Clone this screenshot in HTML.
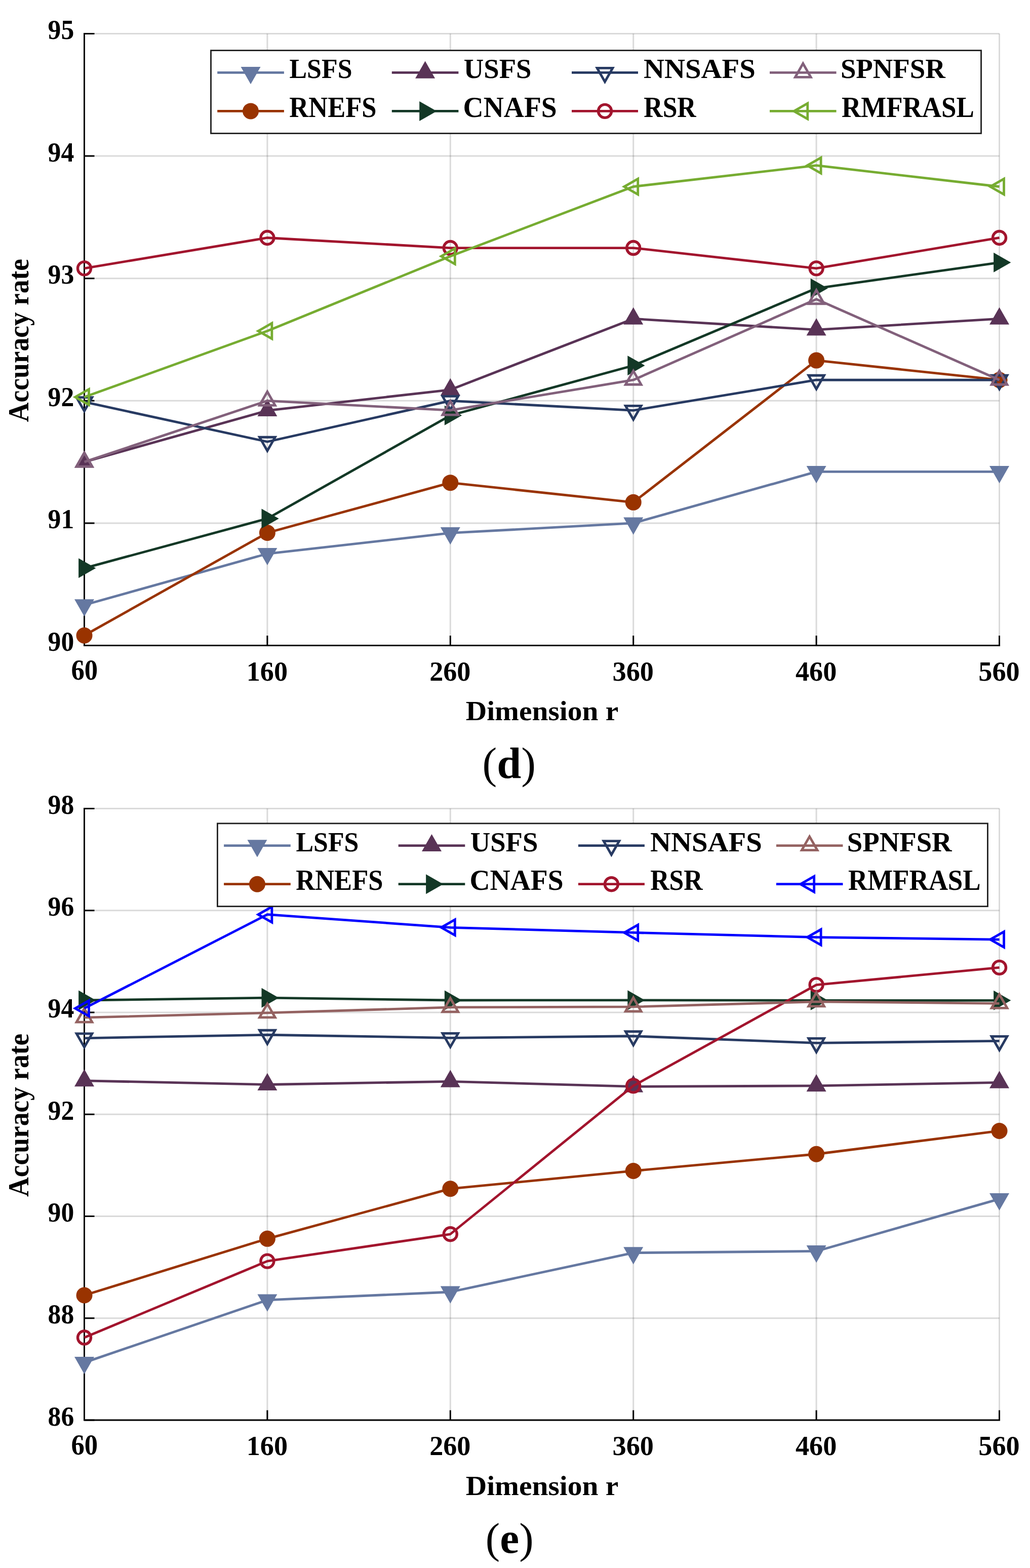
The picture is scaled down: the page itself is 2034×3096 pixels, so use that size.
<!DOCTYPE html>
<html><head><meta charset="utf-8"><title>Accuracy rate vs Dimension r</title>
<style>html,body{margin:0;padding:0;background:#fff;}svg{display:block;}
text{font-family:"Liberation Serif", serif;fill:#000;}</style></head>
<body><svg width="2034" height="3096" viewBox="0 0 2034 3096">
<rect width="2034" height="3096" fill="#fff"/>
<g stroke="#262626" stroke-opacity="0.17" stroke-width="3" fill="none"><path d="M166.5 1274.5H1973.5"/><path d="M166.5 1032.9H1973.5"/><path d="M166.5 791.3H1973.5"/><path d="M166.5 549.7H1973.5"/><path d="M166.5 308.1H1973.5"/><path d="M166.5 66.5H1973.5"/><path d="M166.5 66.5V1274.5"/><path d="M527.9 66.5V1274.5"/><path d="M889.3 66.5V1274.5"/><path d="M1250.7 66.5V1274.5"/><path d="M1612.1 66.5V1274.5"/><path d="M1973.5 66.5V1274.5"/></g>
<path d="M166.5 66.5V1274.5H1973.5" fill="none" stroke="#000" stroke-width="3" stroke-linecap="square"/>
<path d="M166.5 1274.5H186.5M166.5 1032.9H186.5M166.5 791.3H186.5M166.5 549.7H186.5M166.5 308.1H186.5M166.5 66.5H186.5M166.5 1274.5V1255M527.9 1274.5V1255M889.3 1274.5V1255M1250.7 1274.5V1255M1612.1 1274.5V1255M1973.5 1274.5V1255" fill="none" stroke="#000" stroke-width="3"/>
<polyline points="166.5,1194.53 527.9,1093.3 889.3,1052.47 1250.7,1032.9 1612.1,931.43 1973.5,931.43" fill="none" stroke="#6578a1" stroke-width="4.8" stroke-linejoin="round"/>
<path d="M147 1183.13 L186 1183.13 L166.5 1217.33 Z" fill="#6578a1"/>
<path d="M508.4 1081.9 L547.4 1081.9 L527.9 1116.1 Z" fill="#6578a1"/>
<path d="M869.8 1041.07 L908.8 1041.07 L889.3 1075.27 Z" fill="#6578a1"/>
<path d="M1231.2 1021.5 L1270.2 1021.5 L1250.7 1055.7 Z" fill="#6578a1"/>
<path d="M1592.6 920.03 L1631.6 920.03 L1612.1 954.23 Z" fill="#6578a1"/>
<path d="M1954 920.03 L1993 920.03 L1973.5 954.23 Z" fill="#6578a1"/>
<polyline points="166.5,1254.69 527.9,1051.99 889.3,953.17 1250.7,991.83 1612.1,711.57 1973.5,750.23" fill="none" stroke="#993300" stroke-width="4.8" stroke-linejoin="round"/>
<circle cx="166.5" cy="1254.69" r="16" fill="#993300"/>
<circle cx="527.9" cy="1051.99" r="16" fill="#993300"/>
<circle cx="889.3" cy="953.17" r="16" fill="#993300"/>
<circle cx="1250.7" cy="991.83" r="16" fill="#993300"/>
<circle cx="1612.1" cy="711.57" r="16" fill="#993300"/>
<circle cx="1973.5" cy="750.23" r="16" fill="#993300"/>
<polyline points="166.5,912.1 527.9,810.63 889.3,769.56 1250.7,629.43 1612.1,651.17 1973.5,629.43" fill="none" stroke="#593356" stroke-width="4.8" stroke-linejoin="round"/>
<path d="M147 923.5 L186 923.5 L166.5 889.3 Z" fill="#593356"/>
<path d="M508.4 822.03 L547.4 822.03 L527.9 787.83 Z" fill="#593356"/>
<path d="M869.8 780.96 L908.8 780.96 L889.3 746.76 Z" fill="#593356"/>
<path d="M1231.2 640.83 L1270.2 640.83 L1250.7 606.63 Z" fill="#593356"/>
<path d="M1592.6 662.57 L1631.6 662.57 L1612.1 628.37 Z" fill="#593356"/>
<path d="M1954 640.83 L1993 640.83 L1973.5 606.63 Z" fill="#593356"/>
<polyline points="166.5,1121.81 527.9,1023.96 889.3,820.29 1250.7,721.72 1612.1,569.27 1973.5,518.29" fill="none" stroke="#133826" stroke-width="4.8" stroke-linejoin="round"/>
<path d="M155.1 1102.31 L155.1 1141.31 L189.3 1121.81 Z" fill="#133826"/>
<path d="M516.5 1004.46 L516.5 1043.46 L550.7 1023.96 Z" fill="#133826"/>
<path d="M877.9 800.79 L877.9 839.79 L912.1 820.29 Z" fill="#133826"/>
<path d="M1239.3 702.22 L1239.3 741.22 L1273.5 721.72 Z" fill="#133826"/>
<path d="M1600.7 549.77 L1600.7 588.77 L1634.9 569.27 Z" fill="#133826"/>
<path d="M1962.1 498.79 L1962.1 537.79 L1996.3 518.29 Z" fill="#133826"/>
<polyline points="166.5,793.72 527.9,872.24 889.3,791.3 1250.7,810.39 1612.1,750.23 1973.5,750.23" fill="none" stroke="#273a62" stroke-width="4.8" stroke-linejoin="round"/>
<path d="M147 782.32 L186 782.32 L166.5 816.52 Z M166.5 806.83 L177.74 787.12 L155.26 787.12 Z" fill="#273a62" fill-rule="evenodd"/>
<path d="M508.4 860.84 L547.4 860.84 L527.9 895.04 Z M527.9 885.35 L539.14 865.64 L516.66 865.64 Z" fill="#273a62" fill-rule="evenodd"/>
<path d="M869.8 779.9 L908.8 779.9 L889.3 814.1 Z M889.3 804.41 L900.54 784.7 L878.06 784.7 Z" fill="#273a62" fill-rule="evenodd"/>
<path d="M1231.2 798.99 L1270.2 798.99 L1250.7 833.19 Z M1250.7 823.5 L1261.94 803.79 L1239.46 803.79 Z" fill="#273a62" fill-rule="evenodd"/>
<path d="M1592.6 738.83 L1631.6 738.83 L1612.1 773.03 Z M1612.1 763.34 L1623.34 743.63 L1600.86 743.63 Z" fill="#273a62" fill-rule="evenodd"/>
<path d="M1954 738.83 L1993 738.83 L1973.5 773.03 Z M1973.5 763.34 L1984.74 743.63 L1962.26 743.63 Z" fill="#273a62" fill-rule="evenodd"/>
<polyline points="166.5,529.89 527.9,469.49 889.3,489.54 1250.7,489.54 1612.1,529.89 1973.5,469.49" fill="none" stroke="#a2142d" stroke-width="4.8" stroke-linejoin="round"/>
<circle cx="166.5" cy="529.89" r="13" fill="none" stroke="#a2142d" stroke-width="5.4"/>
<circle cx="527.9" cy="469.49" r="13" fill="none" stroke="#a2142d" stroke-width="5.4"/>
<circle cx="889.3" cy="489.54" r="13" fill="none" stroke="#a2142d" stroke-width="5.4"/>
<circle cx="1250.7" cy="489.54" r="13" fill="none" stroke="#a2142d" stroke-width="5.4"/>
<circle cx="1612.1" cy="529.89" r="13" fill="none" stroke="#a2142d" stroke-width="5.4"/>
<circle cx="1973.5" cy="469.49" r="13" fill="none" stroke="#a2142d" stroke-width="5.4"/>
<polyline points="166.5,912.1 527.9,791.3 889.3,810.14 1250.7,750.23 1612.1,590.77 1973.5,750.23" fill="none" stroke="#82607b" stroke-width="4.8" stroke-linejoin="round"/>
<path d="M147 923.5 L186 923.5 L166.5 889.3 Z M166.5 898.99 L177.74 918.7 L155.26 918.7 Z" fill="#82607b" fill-rule="evenodd"/>
<path d="M508.4 802.7 L547.4 802.7 L527.9 768.5 Z M527.9 778.19 L539.14 797.9 L516.66 797.9 Z" fill="#82607b" fill-rule="evenodd"/>
<path d="M869.8 821.54 L908.8 821.54 L889.3 787.34 Z M889.3 797.04 L900.54 816.74 L878.06 816.74 Z" fill="#82607b" fill-rule="evenodd"/>
<path d="M1231.2 761.63 L1270.2 761.63 L1250.7 727.43 Z M1250.7 737.12 L1261.94 756.83 L1239.46 756.83 Z" fill="#82607b" fill-rule="evenodd"/>
<path d="M1592.6 602.17 L1631.6 602.17 L1612.1 567.97 Z M1612.1 577.66 L1623.34 597.37 L1600.86 597.37 Z" fill="#82607b" fill-rule="evenodd"/>
<path d="M1954 761.63 L1993 761.63 L1973.5 727.43 Z M1973.5 737.12 L1984.74 756.83 L1962.26 756.83 Z" fill="#82607b" fill-rule="evenodd"/>
<polyline points="166.5,784.05 527.9,653.59 889.3,505.97 1250.7,368.5 1612.1,326.7 1973.5,368.5" fill="none" stroke="#76ac31" stroke-width="4.8" stroke-linejoin="round"/>
<path d="M177.9 764.55 L177.9 803.55 L143.7 784.05 Z M153.39 784.05 L173.1 795.29 L173.1 772.81 Z" fill="#76ac31" fill-rule="evenodd"/>
<path d="M539.3 634.09 L539.3 673.09 L505.1 653.59 Z M514.79 653.59 L534.5 664.83 L534.5 642.35 Z" fill="#76ac31" fill-rule="evenodd"/>
<path d="M900.7 486.47 L900.7 525.47 L866.5 505.97 Z M876.19 505.97 L895.9 517.21 L895.9 494.73 Z" fill="#76ac31" fill-rule="evenodd"/>
<path d="M1262.1 349 L1262.1 388 L1227.9 368.5 Z M1237.59 368.5 L1257.3 379.74 L1257.3 357.26 Z" fill="#76ac31" fill-rule="evenodd"/>
<path d="M1623.5 307.2 L1623.5 346.2 L1589.3 326.7 Z M1598.99 326.7 L1618.7 337.94 L1618.7 315.47 Z" fill="#76ac31" fill-rule="evenodd"/>
<path d="M1984.9 349 L1984.9 388 L1950.7 368.5 Z M1960.39 368.5 L1980.1 379.74 L1980.1 357.26 Z" fill="#76ac31" fill-rule="evenodd"/>
<text x="146.25" y="1284.95" font-size="54.88" font-weight="bold" text-anchor="end" textLength="51.68" lengthAdjust="spacingAndGlyphs">90</text>
<text x="146.25" y="1043.35" font-size="54.88" font-weight="bold" text-anchor="end" textLength="51.68" lengthAdjust="spacingAndGlyphs">91</text>
<text x="146.25" y="801.75" font-size="54.88" font-weight="bold" text-anchor="end" textLength="51.68" lengthAdjust="spacingAndGlyphs">92</text>
<text x="146.25" y="560.15" font-size="54.88" font-weight="bold" text-anchor="end" textLength="51.68" lengthAdjust="spacingAndGlyphs">93</text>
<text x="146.25" y="318.55" font-size="54.88" font-weight="bold" text-anchor="end" textLength="51.68" lengthAdjust="spacingAndGlyphs">94</text>
<text x="146.25" y="76.95" font-size="54.88" font-weight="bold" text-anchor="end" textLength="51.68" lengthAdjust="spacingAndGlyphs">95</text>
<text x="166.8" y="1342" font-size="56.65" font-weight="bold" text-anchor="middle" textLength="52.72" lengthAdjust="spacingAndGlyphs">60</text>
<text x="527.4" y="1343.75" font-size="54.37" font-weight="bold" text-anchor="middle" textLength="81.29" lengthAdjust="spacingAndGlyphs">160</text>
<text x="888.8" y="1343.75" font-size="54.37" font-weight="bold" text-anchor="middle" textLength="81.29" lengthAdjust="spacingAndGlyphs">260</text>
<text x="1250.2" y="1343.75" font-size="54.37" font-weight="bold" text-anchor="middle" textLength="81.29" lengthAdjust="spacingAndGlyphs">360</text>
<text x="1611.6" y="1343.75" font-size="54.37" font-weight="bold" text-anchor="middle" textLength="81.29" lengthAdjust="spacingAndGlyphs">460</text>
<text x="1973" y="1343.75" font-size="54.37" font-weight="bold" text-anchor="middle" textLength="81.29" lengthAdjust="spacingAndGlyphs">560</text>
<text x="1070.5" y="1422.25" font-size="54.31" font-weight="bold" text-anchor="middle" textLength="301.63" lengthAdjust="spacingAndGlyphs">Dimension r</text>
<text x="0" y="0" font-size="56.95" font-weight="bold" text-anchor="middle" textLength="322.16" lengthAdjust="spacingAndGlyphs" transform="translate(56.15 672.1) rotate(-90)">Accuracy rate</text>
<text x="1005.3" y="1535.5" font-size="86.23" text-anchor="middle">(<tspan font-weight="bold">d</tspan>)</text>
<rect x="416.5" y="99.6" width="1521" height="163.8" fill="#fff" stroke="#1e1e1e" stroke-width="2.8"/>
<path d="M429.2 143.4H560.9" stroke="#6578a1" stroke-width="4.8"/>
<path d="M475.55 132 L514.55 132 L495.05 166.2 Z" fill="#6578a1"/>
<text x="571.5" y="154.2" font-size="55" font-weight="bold" text-anchor="start" textLength="124.08" lengthAdjust="spacingAndGlyphs">LSFS</text>
<path d="M773.8 143.4H905.4" stroke="#593356" stroke-width="4.8"/>
<path d="M820.1 154.8 L859.1 154.8 L839.6 120.6 Z" fill="#593356"/>
<text x="915.75" y="154.2" font-size="55" font-weight="bold" text-anchor="start" textLength="133.72" lengthAdjust="spacingAndGlyphs">USFS</text>
<path d="M1129 143.4H1260" stroke="#273a62" stroke-width="4.8"/>
<path d="M1175 132 L1214 132 L1194.5 166.2 Z M1194.5 156.51 L1205.74 136.8 L1183.26 136.8 Z" fill="#273a62" fill-rule="evenodd"/>
<text x="1271.05" y="154.2" font-size="55" font-weight="bold" text-anchor="start" textLength="220.78" lengthAdjust="spacingAndGlyphs">NNSAFS</text>
<path d="M1520 143.4H1651.5" stroke="#82607b" stroke-width="4.8"/>
<path d="M1566.25 154.8 L1605.25 154.8 L1585.75 120.6 Z M1585.75 130.29 L1596.99 150 L1574.51 150 Z" fill="#82607b" fill-rule="evenodd"/>
<text x="1659.95" y="154.2" font-size="55" font-weight="bold" text-anchor="start" textLength="206.74" lengthAdjust="spacingAndGlyphs">SPNFSR</text>
<path d="M429.2 219.4H560.9" stroke="#993300" stroke-width="4.8"/>
<circle cx="495.05" cy="219.4" r="16" fill="#993300"/>
<text x="571.35" y="230.65" font-size="56.08" font-weight="bold" text-anchor="start" textLength="172.17" lengthAdjust="spacingAndGlyphs">RNEFS</text>
<path d="M773.8 219.4H905.4" stroke="#133826" stroke-width="4.8"/>
<path d="M828.2 199.9 L828.2 238.9 L862.4 219.4 Z" fill="#133826"/>
<text x="914.55" y="230.65" font-size="56.08" font-weight="bold" text-anchor="start" textLength="185.15" lengthAdjust="spacingAndGlyphs">CNAFS</text>
<path d="M1129 219.4H1260" stroke="#a2142d" stroke-width="4.8"/>
<circle cx="1194.5" cy="219.4" r="13" fill="none" stroke="#a2142d" stroke-width="5.4"/>
<text x="1271.35" y="230.65" font-size="56.08" font-weight="bold" text-anchor="start" textLength="103.32" lengthAdjust="spacingAndGlyphs">RSR</text>
<path d="M1520 219.4H1651.5" stroke="#76ac31" stroke-width="4.8"/>
<path d="M1597.15 199.9 L1597.15 238.9 L1562.95 219.4 Z M1572.64 219.4 L1592.35 230.64 L1592.35 208.16 Z" fill="#76ac31" fill-rule="evenodd"/>
<text x="1662.05" y="230.65" font-size="56.08" font-weight="bold" text-anchor="start" textLength="261.65" lengthAdjust="spacingAndGlyphs">RMFRASL</text>
<g stroke="#262626" stroke-opacity="0.17" stroke-width="3" fill="none"><path d="M166.5 2804.1H1973.5"/><path d="M166.5 2602.82H1973.5"/><path d="M166.5 2401.53H1973.5"/><path d="M166.5 2200.25H1973.5"/><path d="M166.5 1998.97H1973.5"/><path d="M166.5 1797.68H1973.5"/><path d="M166.5 1596.4H1973.5"/><path d="M166.5 1596.4V2804.1"/><path d="M527.9 1596.4V2804.1"/><path d="M889.3 1596.4V2804.1"/><path d="M1250.7 1596.4V2804.1"/><path d="M1612.1 1596.4V2804.1"/><path d="M1973.5 1596.4V2804.1"/></g>
<path d="M166.5 1596.4V2804.1H1973.5" fill="none" stroke="#000" stroke-width="3" stroke-linecap="square"/>
<path d="M166.5 2804.1H186.5M166.5 2602.82H186.5M166.5 2401.53H186.5M166.5 2200.25H186.5M166.5 1998.97H186.5M166.5 1797.68H186.5M166.5 1596.4H186.5M166.5 2804.1V2784.6M527.9 2804.1V2784.6M889.3 2804.1V2784.6M1250.7 2804.1V2784.6M1612.1 2804.1V2784.6M1973.5 2804.1V2784.6" fill="none" stroke="#000" stroke-width="3"/>
<polyline points="166.5,2690.37 527.9,2566.89 889.3,2550.99 1250.7,2473.69 1612.1,2470.47 1973.5,2367.32" fill="none" stroke="#6578a1" stroke-width="4.8" stroke-linejoin="round"/>
<path d="M147 2678.97 L186 2678.97 L166.5 2713.17 Z" fill="#6578a1"/>
<path d="M508.4 2555.49 L547.4 2555.49 L527.9 2589.69 Z" fill="#6578a1"/>
<path d="M869.8 2539.59 L908.8 2539.59 L889.3 2573.79 Z" fill="#6578a1"/>
<path d="M1231.2 2462.29 L1270.2 2462.29 L1250.7 2496.49 Z" fill="#6578a1"/>
<path d="M1592.6 2459.07 L1631.6 2459.07 L1612.1 2493.27 Z" fill="#6578a1"/>
<path d="M1954 2355.92 L1993 2355.92 L1973.5 2390.12 Z" fill="#6578a1"/>
<polyline points="166.5,2557.53 527.9,2445.82 889.3,2347.19 1250.7,2311.96 1612.1,2278.75 1973.5,2232.96" fill="none" stroke="#993300" stroke-width="4.8" stroke-linejoin="round"/>
<circle cx="166.5" cy="2557.53" r="16" fill="#993300"/>
<circle cx="527.9" cy="2445.82" r="16" fill="#993300"/>
<circle cx="889.3" cy="2347.19" r="16" fill="#993300"/>
<circle cx="1250.7" cy="2311.96" r="16" fill="#993300"/>
<circle cx="1612.1" cy="2278.75" r="16" fill="#993300"/>
<circle cx="1973.5" cy="2232.96" r="16" fill="#993300"/>
<polyline points="166.5,2133.83 527.9,2141.48 889.3,2135.34 1250.7,2145.4 1612.1,2143.89 1973.5,2137.35" fill="none" stroke="#593356" stroke-width="4.8" stroke-linejoin="round"/>
<path d="M147 2145.23 L186 2145.23 L166.5 2111.03 Z" fill="#593356"/>
<path d="M508.4 2152.88 L547.4 2152.88 L527.9 2118.68 Z" fill="#593356"/>
<path d="M869.8 2146.74 L908.8 2146.74 L889.3 2112.54 Z" fill="#593356"/>
<path d="M1231.2 2156.8 L1270.2 2156.8 L1250.7 2122.6 Z" fill="#593356"/>
<path d="M1592.6 2155.29 L1631.6 2155.29 L1612.1 2121.09 Z" fill="#593356"/>
<path d="M1954 2148.75 L1993 2148.75 L1973.5 2114.55 Z" fill="#593356"/>
<polyline points="166.5,1975.01 527.9,1970.18 889.3,1975.01 1250.7,1974.81 1612.1,1975.32 1973.5,1975.32" fill="none" stroke="#133826" stroke-width="4.8" stroke-linejoin="round"/>
<path d="M155.1 1955.51 L155.1 1994.51 L189.3 1975.01 Z" fill="#133826"/>
<path d="M516.5 1950.68 L516.5 1989.68 L550.7 1970.18 Z" fill="#133826"/>
<path d="M877.9 1955.51 L877.9 1994.51 L912.1 1975.01 Z" fill="#133826"/>
<path d="M1239.3 1955.31 L1239.3 1994.31 L1273.5 1974.81 Z" fill="#133826"/>
<path d="M1600.7 1955.82 L1600.7 1994.82 L1634.9 1975.32 Z" fill="#133826"/>
<path d="M1962.1 1955.82 L1962.1 1994.82 L1996.3 1975.32 Z" fill="#133826"/>
<polyline points="166.5,2049.79 527.9,2043.25 889.3,2049.29 1250.7,2045.77 1612.1,2059.35 1973.5,2055.33" fill="none" stroke="#273a62" stroke-width="4.8" stroke-linejoin="round"/>
<path d="M147 2038.39 L186 2038.39 L166.5 2072.59 Z M166.5 2062.9 L177.74 2043.19 L155.26 2043.19 Z" fill="#273a62" fill-rule="evenodd"/>
<path d="M508.4 2031.85 L547.4 2031.85 L527.9 2066.05 Z M527.9 2056.36 L539.14 2036.65 L516.66 2036.65 Z" fill="#273a62" fill-rule="evenodd"/>
<path d="M869.8 2037.89 L908.8 2037.89 L889.3 2072.09 Z M889.3 2062.4 L900.54 2042.69 L878.06 2042.69 Z" fill="#273a62" fill-rule="evenodd"/>
<path d="M1231.2 2034.37 L1270.2 2034.37 L1250.7 2068.57 Z M1250.7 2058.87 L1261.94 2039.17 L1239.46 2039.17 Z" fill="#273a62" fill-rule="evenodd"/>
<path d="M1592.6 2047.95 L1631.6 2047.95 L1612.1 2082.15 Z M1612.1 2072.46 L1623.34 2052.75 L1600.86 2052.75 Z" fill="#273a62" fill-rule="evenodd"/>
<path d="M1954 2043.93 L1993 2043.93 L1973.5 2078.13 Z M1973.5 2068.44 L1984.74 2048.73 L1962.26 2048.73 Z" fill="#273a62" fill-rule="evenodd"/>
<polyline points="166.5,2641.06 527.9,2490.1 889.3,2436.76 1250.7,2143.89 1612.1,1944.62 1973.5,1910.4" fill="none" stroke="#a2142d" stroke-width="4.8" stroke-linejoin="round"/>
<circle cx="166.5" cy="2641.06" r="13" fill="none" stroke="#a2142d" stroke-width="5.4"/>
<circle cx="527.9" cy="2490.1" r="13" fill="none" stroke="#a2142d" stroke-width="5.4"/>
<circle cx="889.3" cy="2436.76" r="13" fill="none" stroke="#a2142d" stroke-width="5.4"/>
<circle cx="1250.7" cy="2143.89" r="13" fill="none" stroke="#a2142d" stroke-width="5.4"/>
<circle cx="1612.1" cy="1944.62" r="13" fill="none" stroke="#a2142d" stroke-width="5.4"/>
<circle cx="1973.5" cy="1910.4" r="13" fill="none" stroke="#a2142d" stroke-width="5.4"/>
<polyline points="166.5,2009.03 527.9,1999.97 889.3,1988.9 1250.7,1987.9 1612.1,1977.83 1973.5,1981.35" fill="none" stroke="#946261" stroke-width="4.8" stroke-linejoin="round"/>
<path d="M147 2020.43 L186 2020.43 L166.5 1986.23 Z M166.5 1995.92 L177.74 2015.63 L155.26 2015.63 Z" fill="#946261" fill-rule="evenodd"/>
<path d="M508.4 2011.37 L547.4 2011.37 L527.9 1977.17 Z M527.9 1986.86 L539.14 2006.57 L516.66 2006.57 Z" fill="#946261" fill-rule="evenodd"/>
<path d="M869.8 2000.3 L908.8 2000.3 L889.3 1966.1 Z M889.3 1975.79 L900.54 1995.5 L878.06 1995.5 Z" fill="#946261" fill-rule="evenodd"/>
<path d="M1231.2 1999.3 L1270.2 1999.3 L1250.7 1965.1 Z M1250.7 1974.79 L1261.94 1994.5 L1239.46 1994.5 Z" fill="#946261" fill-rule="evenodd"/>
<path d="M1592.6 1989.23 L1631.6 1989.23 L1612.1 1955.03 Z M1612.1 1964.72 L1623.34 1984.43 L1600.86 1984.43 Z" fill="#946261" fill-rule="evenodd"/>
<path d="M1954 1992.75 L1993 1992.75 L1973.5 1958.55 Z M1973.5 1968.25 L1984.74 1987.95 L1962.26 1987.95 Z" fill="#946261" fill-rule="evenodd"/>
<polyline points="166.5,1990.92 527.9,1805.73 889.3,1831.3 1250.7,1841.46 1612.1,1850.62 1973.5,1855.05" fill="none" stroke="#0000ff" stroke-width="4.8" stroke-linejoin="round"/>
<path d="M177.9 1971.42 L177.9 2010.42 L143.7 1990.92 Z M153.39 1990.92 L173.1 2002.15 L173.1 1979.68 Z" fill="#0000ff" fill-rule="evenodd"/>
<path d="M539.3 1786.23 L539.3 1825.23 L505.1 1805.73 Z M514.79 1805.73 L534.5 1816.97 L534.5 1794.5 Z" fill="#0000ff" fill-rule="evenodd"/>
<path d="M900.7 1811.8 L900.7 1850.8 L866.5 1831.3 Z M876.19 1831.3 L895.9 1842.54 L895.9 1820.06 Z" fill="#0000ff" fill-rule="evenodd"/>
<path d="M1262.1 1821.96 L1262.1 1860.96 L1227.9 1841.46 Z M1237.59 1841.46 L1257.3 1852.7 L1257.3 1830.22 Z" fill="#0000ff" fill-rule="evenodd"/>
<path d="M1623.5 1831.12 L1623.5 1870.12 L1589.3 1850.62 Z M1598.99 1850.62 L1618.7 1861.86 L1618.7 1839.38 Z" fill="#0000ff" fill-rule="evenodd"/>
<path d="M1984.9 1835.55 L1984.9 1874.55 L1950.7 1855.05 Z M1960.39 1855.05 L1980.1 1866.29 L1980.1 1843.81 Z" fill="#0000ff" fill-rule="evenodd"/>
<text x="146.25" y="2814.55" font-size="54.88" font-weight="bold" text-anchor="end" textLength="51.68" lengthAdjust="spacingAndGlyphs">86</text>
<text x="146.25" y="2613.27" font-size="54.88" font-weight="bold" text-anchor="end" textLength="51.68" lengthAdjust="spacingAndGlyphs">88</text>
<text x="146.25" y="2411.98" font-size="54.88" font-weight="bold" text-anchor="end" textLength="51.68" lengthAdjust="spacingAndGlyphs">90</text>
<text x="146.25" y="2210.7" font-size="54.88" font-weight="bold" text-anchor="end" textLength="51.68" lengthAdjust="spacingAndGlyphs">92</text>
<text x="146.25" y="2009.42" font-size="54.88" font-weight="bold" text-anchor="end" textLength="51.68" lengthAdjust="spacingAndGlyphs">94</text>
<text x="146.25" y="1808.13" font-size="54.88" font-weight="bold" text-anchor="end" textLength="51.68" lengthAdjust="spacingAndGlyphs">96</text>
<text x="146.25" y="1606.85" font-size="54.88" font-weight="bold" text-anchor="end" textLength="51.68" lengthAdjust="spacingAndGlyphs">98</text>
<text x="166.8" y="2871.6" font-size="56.65" font-weight="bold" text-anchor="middle" textLength="52.72" lengthAdjust="spacingAndGlyphs">60</text>
<text x="527.4" y="2873.35" font-size="54.37" font-weight="bold" text-anchor="middle" textLength="81.29" lengthAdjust="spacingAndGlyphs">160</text>
<text x="888.8" y="2873.35" font-size="54.37" font-weight="bold" text-anchor="middle" textLength="81.29" lengthAdjust="spacingAndGlyphs">260</text>
<text x="1250.2" y="2873.35" font-size="54.37" font-weight="bold" text-anchor="middle" textLength="81.29" lengthAdjust="spacingAndGlyphs">360</text>
<text x="1611.6" y="2873.35" font-size="54.37" font-weight="bold" text-anchor="middle" textLength="81.29" lengthAdjust="spacingAndGlyphs">460</text>
<text x="1973" y="2873.35" font-size="54.37" font-weight="bold" text-anchor="middle" textLength="81.29" lengthAdjust="spacingAndGlyphs">560</text>
<text x="1070.5" y="2951.85" font-size="54.31" font-weight="bold" text-anchor="middle" textLength="301.63" lengthAdjust="spacingAndGlyphs">Dimension r</text>
<text x="0" y="0" font-size="56.95" font-weight="bold" text-anchor="middle" textLength="322.16" lengthAdjust="spacingAndGlyphs" transform="translate(56.15 2201.85) rotate(-90)">Accuracy rate</text>
<text x="1006.2" y="3065.6" font-size="85.37" text-anchor="middle">(<tspan font-weight="bold">e</tspan>)</text>
<rect x="429.4" y="1625.9" width="1521" height="163.8" fill="#fff" stroke="#1e1e1e" stroke-width="2.8"/>
<path d="M442.1 1669.7H573.8" stroke="#6578a1" stroke-width="4.8"/>
<path d="M488.45 1658.3 L527.45 1658.3 L507.95 1692.5 Z" fill="#6578a1"/>
<text x="584.4" y="1680.5" font-size="55" font-weight="bold" text-anchor="start" textLength="124.08" lengthAdjust="spacingAndGlyphs">LSFS</text>
<path d="M786.7 1669.7H918.3" stroke="#593356" stroke-width="4.8"/>
<path d="M833 1681.1 L872 1681.1 L852.5 1646.9 Z" fill="#593356"/>
<text x="928.65" y="1680.5" font-size="55" font-weight="bold" text-anchor="start" textLength="133.72" lengthAdjust="spacingAndGlyphs">USFS</text>
<path d="M1141.9 1669.7H1272.9" stroke="#273a62" stroke-width="4.8"/>
<path d="M1187.9 1658.3 L1226.9 1658.3 L1207.4 1692.5 Z M1207.4 1682.81 L1218.64 1663.1 L1196.16 1663.1 Z" fill="#273a62" fill-rule="evenodd"/>
<text x="1283.95" y="1680.5" font-size="55" font-weight="bold" text-anchor="start" textLength="220.78" lengthAdjust="spacingAndGlyphs">NNSAFS</text>
<path d="M1532.9 1669.7H1664.4" stroke="#946261" stroke-width="4.8"/>
<path d="M1579.15 1681.1 L1618.15 1681.1 L1598.65 1646.9 Z M1598.65 1656.59 L1609.89 1676.3 L1587.41 1676.3 Z" fill="#946261" fill-rule="evenodd"/>
<text x="1672.85" y="1680.5" font-size="55" font-weight="bold" text-anchor="start" textLength="206.74" lengthAdjust="spacingAndGlyphs">SPNFSR</text>
<path d="M442.1 1745.7H573.8" stroke="#993300" stroke-width="4.8"/>
<circle cx="507.95" cy="1745.7" r="16" fill="#993300"/>
<text x="584.25" y="1756.95" font-size="56.08" font-weight="bold" text-anchor="start" textLength="172.17" lengthAdjust="spacingAndGlyphs">RNEFS</text>
<path d="M786.7 1745.7H918.3" stroke="#133826" stroke-width="4.8"/>
<path d="M841.1 1726.2 L841.1 1765.2 L875.3 1745.7 Z" fill="#133826"/>
<text x="927.45" y="1756.95" font-size="56.08" font-weight="bold" text-anchor="start" textLength="185.15" lengthAdjust="spacingAndGlyphs">CNAFS</text>
<path d="M1141.9 1745.7H1272.9" stroke="#a2142d" stroke-width="4.8"/>
<circle cx="1207.4" cy="1745.7" r="13" fill="none" stroke="#a2142d" stroke-width="5.4"/>
<text x="1284.25" y="1756.95" font-size="56.08" font-weight="bold" text-anchor="start" textLength="103.32" lengthAdjust="spacingAndGlyphs">RSR</text>
<path d="M1532.9 1745.7H1664.4" stroke="#0000ff" stroke-width="4.8"/>
<path d="M1610.05 1726.2 L1610.05 1765.2 L1575.85 1745.7 Z M1585.54 1745.7 L1605.25 1756.94 L1605.25 1734.46 Z" fill="#0000ff" fill-rule="evenodd"/>
<text x="1674.95" y="1756.95" font-size="56.08" font-weight="bold" text-anchor="start" textLength="261.65" lengthAdjust="spacingAndGlyphs">RMFRASL</text>
</svg></body></html>
